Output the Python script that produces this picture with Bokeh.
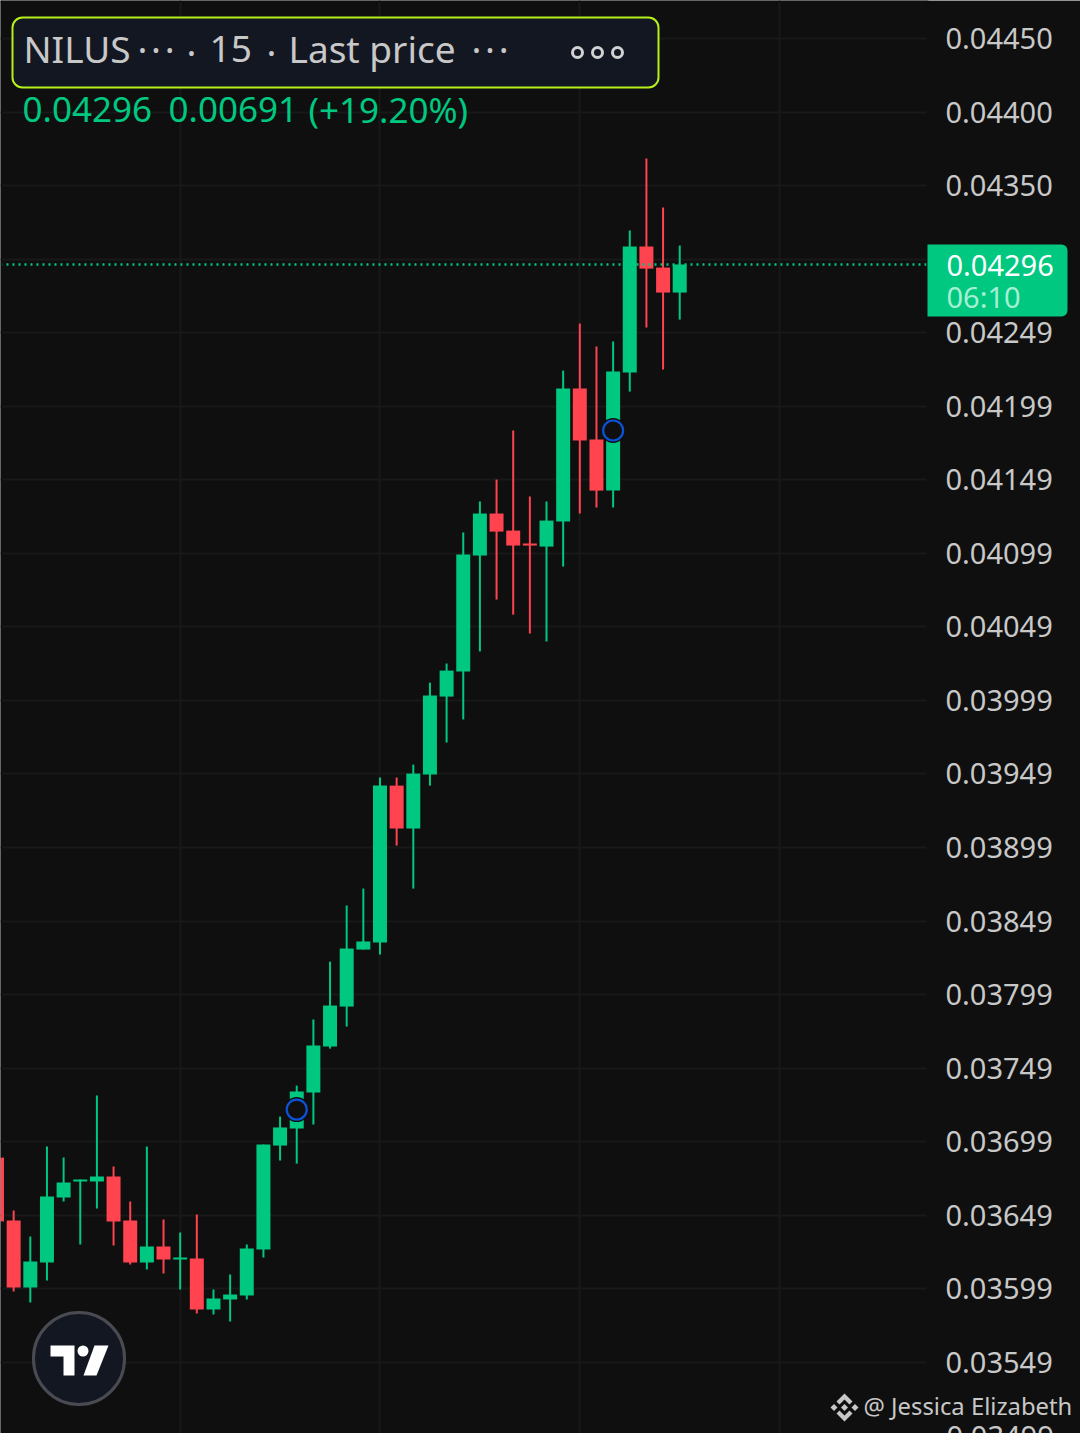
from bokeh.embed import file_html
from bokeh.layouts import column
from bokeh.models import (BoxAnnotation, ColumnDataSource, FixedTicker, Label,
                          PolyAnnotation, Range1d, Span)
from bokeh.plotting import figure
from bokeh.resources import INLINE

# ---------- data ----------
BAR = list(range(42))
OPEN = [0.036883, 0.036455, 0.035998, 0.036169, 0.036611, 0.036720, 0.036720, 0.036754, 0.036455, 0.036169,
        0.036278, 0.036189, 0.036196, 0.035849, 0.035917, 0.035944, 0.036257, 0.036965, 0.037081, 0.037326,
        0.037639, 0.037911, 0.038299, 0.038347, 0.039415, 0.039123, 0.039490, 0.040021, 0.040191, 0.040981,
        0.041267, 0.041151, 0.041063, 0.041042, 0.041212, 0.042118, 0.041771, 0.041423, 0.042227, 0.043084,
        0.042941, 0.042771]
HIGH = [0.036931, 0.036523, 0.036346, 0.036958, 0.036883, 0.036734, 0.037305, 0.036822, 0.036584, 0.036958,
        0.036461, 0.036373, 0.036495, 0.035985, 0.036087, 0.036291, 0.036972, 0.037162, 0.037373, 0.037823,
        0.038217, 0.038599, 0.038714, 0.039470, 0.039470, 0.039558, 0.040116, 0.040246, 0.041138, 0.041349,
        0.041498, 0.041832, 0.041383, 0.041349, 0.042240, 0.042560, 0.042404, 0.042438, 0.043193, 0.043683,
        0.043350, 0.043091]
LOW = [0.036420, 0.035971, 0.035896, 0.036046, 0.036584, 0.036291, 0.036536, 0.036284, 0.036155, 0.036121,
       0.036094, 0.035985, 0.035821, 0.035815, 0.035767, 0.035917, 0.036203, 0.036863, 0.036842, 0.037108,
       0.037625, 0.037775, 0.038299, 0.038265, 0.039007, 0.038714, 0.039415, 0.039708, 0.039865, 0.040328,
       0.040681, 0.040579, 0.040450, 0.040396, 0.040906, 0.041267, 0.041308, 0.041308, 0.042097, 0.042533,
       0.042247, 0.042587]
CLOSE = [0.036448, 0.035998, 0.036175, 0.036618, 0.036713, 0.036734, 0.036754, 0.036448, 0.036169, 0.036278,
         0.036189, 0.036203, 0.035849, 0.035924, 0.035951, 0.036264, 0.036972, 0.037088, 0.037333, 0.037646,
         0.037918, 0.038306, 0.038354, 0.039415, 0.039123, 0.039497, 0.040028, 0.040198, 0.040988, 0.041267,
         0.041144, 0.041049, 0.041049, 0.041219, 0.042118, 0.041764, 0.041423, 0.042233, 0.043084, 0.042934,
         0.042771, 0.042962]
MARK_BAR = [18, 37]
MARK_PRICE = [0.037210, 0.041832]
LAST_PRICE = 0.042962
TICKS = [0.04450000, 0.04399944, 0.04349888, 0.04299832, 0.04249776, 0.04199720, 0.04149664, 0.04099608,
         0.04049552, 0.03999496, 0.03949440, 0.03899384, 0.03849328, 0.03799272, 0.03749216, 0.03699160,
         0.03649104, 0.03599048, 0.03548992]
TICK_LABELS = ["0.04450", "0.04400", "0.04350", "", "0.04249", "0.04199", "0.04149", "0.04099", "0.04049",
               "0.03999", "0.03949", "0.03899", "0.03849", "0.03799", "0.03749", "0.03699", "0.03649",
               "0.03599", "0.03549"]
TIME_GRID = [11, 23, 35, 47]

# ---------- style ----------
W, H = 1080, 1433
BG = "#0f0f0f"
GRID = "#191919"
GREEN = "#00c880"
RED = "#ff434f"
TEXT = "#c8c8c8"
PANEL = "#131722"
FONT = "Noto Sans"

up = [c >= o for o, c in zip(OPEN, CLOSE)]
src = ColumnDataSource(dict(
    x=BAR, open=OPEN, high=HIGH, low=LOW, close=CLOSE,
    top=[max(o, c) for o, c in zip(OPEN, CLOSE)],
    bottom=[min(o, c) for o, c in zip(OPEN, CLOSE)],
    color=[GREEN if u else RED for u in up],
))

p = figure(width=W, height=H, output_backend="svg", toolbar_location=None,
           x_range=Range1d(0.21, 55.88), y_range=Range1d(0.035005, 0.044759),
           y_axis_location="right", min_border_left=0, min_border_top=0, min_border_bottom=0,
           min_border_right=153, background_fill_color=BG, border_fill_color=BG,
           outline_line_color=None, outline_line_alpha=0, outline_line_width=0,
           margin=0, frame_align=False)

p.xaxis.visible = False
p.xgrid.ticker = FixedTicker(ticks=TIME_GRID)
p.ygrid.ticker = FixedTicker(ticks=TICKS)
for g in (p.xgrid, p.ygrid):
    g.grid_line_color = GRID
    g.grid_line_width = 2

ax = p.yaxis[0]
ax.ticker = FixedTicker(ticks=TICKS)
ax.major_label_overrides = dict(zip(TICKS, TICK_LABELS))
ax.axis_line_color = None
ax.major_tick_line_color = None
ax.minor_tick_line_color = None
ax.major_label_standoff = 12
ax.major_label_text_color = TEXT
ax.major_label_text_font = FONT
ax.major_label_text_font_size = "29px"

p.segment("x", "high", "x", "low", source=src, line_color="color", line_width=2)
p.vbar(x="x", width=0.84, top="top", bottom="bottom", source=src, fill_color="color", line_color=None)

p.scatter(MARK_BAR, MARK_PRICE, size=25, fill_color=BG, line_color=None)
p.scatter(MARK_BAR, MARK_PRICE, size=20, fill_color=BG, line_color="#0b52d8", line_width=2.2)

p.add_layout(Span(location=LAST_PRICE, dimension="width", line_color=GREEN, line_dash="2 4", line_width=2.5))

# Interface furniture sits on a transparent sheet whose frame fills the page,
# so the price tag and watermark can lie over the price scale.
ui = figure(width=W, height=H, output_backend="svg", toolbar_location=None,
            x_range=Range1d(0, W), y_range=Range1d(H, 0),
            x_axis_location=None, y_axis_location=None,
            min_border_left=0, min_border_top=0, min_border_bottom=0, min_border_right=0,
            background_fill_alpha=0, border_fill_alpha=0, outline_line_color=None,
            outline_line_alpha=0, margin=(-H, 0, 0, 0), frame_align=False)
ui.grid.visible = False


def box(l, t, r, b, fill, line=None, lw=0, radius=0):
    ui.add_layout(BoxAnnotation(left=l, right=r, top=t, bottom=b,
                                fill_color=fill, fill_alpha=1 if fill else 0,
                                line_color=line, line_width=lw, line_alpha=1 if line else 0,
                                border_radius=radius, editable=False))


def label(x, y, text, size, color, font=FONT):
    ui.add_layout(Label(x=x, y=y, text=text, text_font=font, text_font_size=f"{size}px",
                        text_color=color, text_baseline="alphabetic", text_align="left"))


def poly(pts, color):
    ui.add_layout(PolyAnnotation(xs=[a for a, _ in pts], ys=[b for _, b in pts],
                                 fill_color=color, fill_alpha=1, line_color=None))


# hide the hairline the main figure leaves around its frame
box(926, 0, 928, H, BG)
box(0, 0, W, 2, BG)
box(0, 0, 2, 1157, BG)
box(0, 1221, 2, H, BG)

# legend panel
box(12, 17, 658, 87, PANEL, "#b4f01a", 2, 10)
DOTS = "·\u200a·\u200a·"
label(23, 48, "NILUS", 37, TEXT)
label(137, 48, DOTS, 37, TEXT)
label(186, 51, "·", 37, TEXT)
label(209, 48, "15", 37, TEXT)
label(266, 51, "·", 37, TEXT)
label(288, 48, "Last price", 37, TEXT)
label(471, 48, DOTS, 37, TEXT)
for cx in (577, 597, 617):
    box(cx - 5, 47, cx + 5, 57, None, "#d2d2d2", 3, 5)
label(22, 109, "0.04296", 35, GREEN)
label(168, 109, "0.00691", 35, GREEN)
label(308, 109, "(+19.20%)", 35, GREEN)

# price tag
box(927, 244, 1067, 316, GREEN, None, 0, (0, 6, 6, 0))
label(946, 265, "0.04296", 29, "#ffffff")
label(946, 296, "06:10", 29, "#a6efd2")

# partly visible lowest tick
label(946, 1436, "0.03499", 29, TEXT)

# TradingView badge
box(33, 1312, 124, 1404, PANEL, "#4a4b52", 3, 46)
poly([(50, 1345), (74, 1345), (74, 1375), (63, 1375), (63, 1356), (50, 1356)], "#ffffff")
box(77, 1345, 88, 1356, "#ffffff", None, 0, 6)
poly([(94, 1345), (108, 1345), (96, 1375), (83, 1375)], "#ffffff")

# watermark
poly([(844, 1393), (852, 1401), (849, 1404), (844, 1399), (839, 1404), (836, 1401)], TEXT)
poly([(844, 1421), (852, 1413), (849, 1410), (844, 1415), (839, 1410), (836, 1413)], TEXT)
poly([(833.5, 1403.5), (837, 1407), (833.5, 1410.5), (830, 1407)], TEXT)
poly([(854.5, 1403.5), (858, 1407), (854.5, 1410.5), (851, 1407)], TEXT)
poly([(844, 1403.5), (847.5, 1407), (844, 1410.5), (840.5, 1407)], TEXT)
label(863, 1405, "@ Jessica Elizabeth", 23.8, TEXT)

page = column(p, ui, margin=0, spacing=0)
open("out.html", "w").write(file_html(page, INLINE))
